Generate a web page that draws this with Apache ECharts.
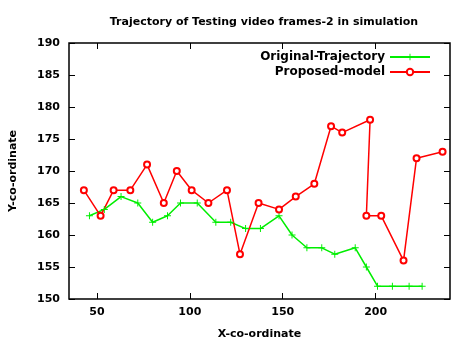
<!DOCTYPE html>
<html>
<head>
<meta charset="utf-8">
<script src="https://cdn.jsdelivr.net/npm/echarts@6/dist/echarts.min.js"></script>
<style>
  html, body { margin: 0; padding: 0; background: #fff; }
  #chart { width: 474px; height: 355px; }
</style>
</head>
<body>
<div id="chart"></div>
<script>
// values
const origX = [46, 54, 63, 72, 80, 88, 95, 104, 114, 122, 130, 138, 148, 155, 163, 171, 178, 189, 195, 201, 209, 218, 225];
const origY = [163, 164, 166, 165, 162, 163, 165, 165, 162, 162, 161, 161, 163, 160, 158, 158, 157, 158, 155, 152, 152, 152, 152];
const propX = [43, 52, 59, 68, 77, 86, 93, 101, 110, 120, 127, 137, 148, 157, 167, 176, 182, 197, 195, 203, 215, 222, 236];
const propY = [167, 163, 167, 167, 171, 165, 170, 167, 165, 167, 157, 165, 164, 166, 168, 177, 176, 178, 163, 163, 156, 172, 173];
const xTicks = [50, 100, 150, 200];

const font = 'DejaVu Sans';
const chart = echarts.init(document.getElementById('chart'));

const pairs = (xs, ys) => xs.map((x, i) => [x, ys[i]]);
const tickStyle = { show: true, inside: true, length: 6, lineStyle: { color: '#000', width: 1 } };

chart.setOption({
    animation: false,
    title: {
        text: 'Trajectory of Testing video frames-2 in simulation',
        left: 259,
        textAlign: 'center',
        top: 12,
        textStyle: { fontFamily: font, fontSize: 11, fontWeight: 'bold', color: '#000' }
    },
    legend: {
        orient: 'vertical',
        align: 'right',
        right: 38,
        top: 46,
        itemWidth: 40,
        itemHeight: 8,
        itemGap: 3,
        textStyle: { fontFamily: font, fontSize: 12, fontWeight: 'bold', color: '#000' },
        data: ['Original-Trajectory', 'Proposed-model']
    },
    grid: {
        left: 68, right: 24, top: 43, bottom: 56,
        show: true, borderColor: '#000', borderWidth: 1.5
    },
    xAxis: [{
        type: 'value', min: 35, max: 240,
        name: 'X-co-ordinate', nameLocation: 'middle', nameGap: 30,
        nameTextStyle: { fontFamily: font, fontSize: 11, fontWeight: 'bold', color: '#000' },
        axisLine: { show: false },
        axisTick: Object.assign({ customValues: xTicks }, tickStyle),
        axisLabel: { customValues: xTicks, margin: 8, fontFamily: font, fontSize: 11, fontWeight: 'bold', color: '#000' },
        splitLine: { show: false }
    }, {
        type: 'value', min: 35, max: 240, position: 'top',
        axisLine: { show: false },
        axisTick: Object.assign({ customValues: xTicks }, tickStyle),
        axisLabel: { show: false },
        splitLine: { show: false }
    }],
    yAxis: [{
        type: 'value', min: 150, max: 190, interval: 5,
        name: 'Y-co-ordinate', nameLocation: 'middle', nameGap: 50,
        nameTextStyle: { fontFamily: font, fontSize: 11, fontWeight: 'bold', color: '#000' },
        axisLine: { show: false },
        axisTick: tickStyle,
        axisLabel: { margin: 9, fontFamily: font, fontSize: 11, fontWeight: 'bold', color: '#000' },
        splitLine: { show: false }
    }, {
        type: 'value', min: 150, max: 190, interval: 5, position: 'right',
        axisLine: { show: false },
        axisTick: tickStyle,
        axisLabel: { show: false },
        splitLine: { show: false }
    }],
    series: [{
        name: 'Original-Trajectory',
        type: 'line',
        data: pairs(origX, origY),
        symbol: 'path://M4.3,0H5.7V4.3H10V5.7H5.7V10H4.3V5.7H0V4.3H4.3Z',
        symbolSize: 7,
        showAllSymbol: true,
        lineStyle: { color: '#00ee00', width: 1.5 },
        itemStyle: { color: '#00ee00' }
    }, {
        name: 'Proposed-model',
        type: 'line',
        data: pairs(propX, propY),
        symbol: 'emptyCircle',
        symbolSize: 6,
        showAllSymbol: true,
        lineStyle: { color: '#ff0000', width: 1.5 },
        itemStyle: { color: '#ff0000', borderWidth: 1.2 }
    }]
});
</script>
</body>
</html>
